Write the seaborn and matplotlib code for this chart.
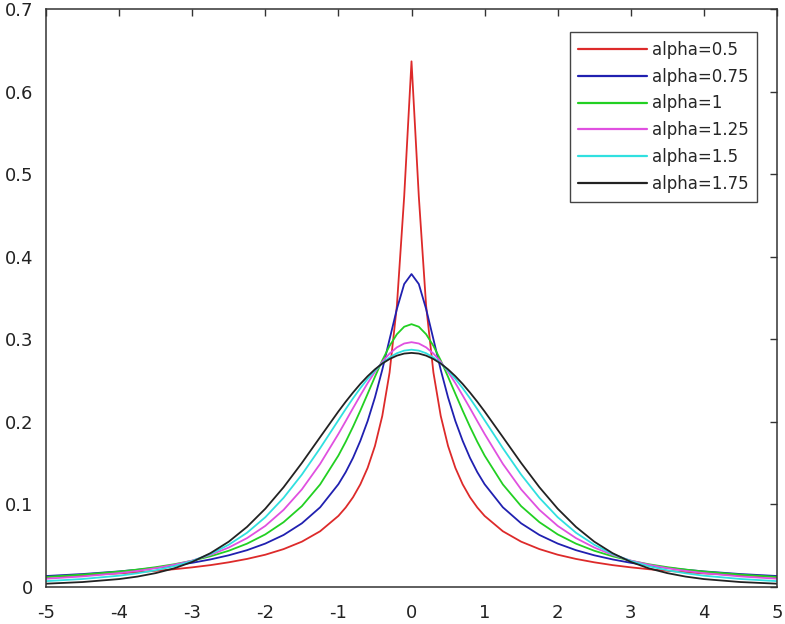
import numpy as np
import pandas as pd
import matplotlib
matplotlib.use("Agg")
import matplotlib.pyplot as plt
import seaborn as sns

# sample points along x (curves are symmetric about 0)
x_vals = [-5, -4.5, -4, -3.75, -3.5, -3.25, -3, -2.75, -2.5, -2.25, -2, -1.75, -1.5, -1.25,
          -1, -0.9, -0.8, -0.7, -0.6, -0.5, -0.4, -0.3, -0.2, -0.1, 0,
          0.1, 0.2, 0.3, 0.4, 0.5, 0.6, 0.7, 0.8, 0.9, 1, 1.25, 1.5, 1.75, 2,
          2.25, 2.5, 2.75, 3, 3.25, 3.5, 3.75, 4, 4.5, 5]

alpha_050 = [0.0123, 0.0142, 0.0165, 0.0179, 0.0196, 0.0215, 0.0238, 0.0265, 0.0299, 0.0340,
             0.0391, 0.0459, 0.0549, 0.0675, 0.0861, 0.0963, 0.1087, 0.1243, 0.1443, 0.1708,
             0.2071, 0.2597, 0.3405, 0.4730, 0.6366,
             0.4730, 0.3405, 0.2597, 0.2071, 0.1708, 0.1443, 0.1243, 0.1087, 0.0963, 0.0861,
             0.0675, 0.0549, 0.0459, 0.0391, 0.0340, 0.0299, 0.0265, 0.0238, 0.0215, 0.0196,
             0.0179, 0.0165, 0.0142, 0.0123]
alpha_075 = [0.0133, 0.0157, 0.0189, 0.0209, 0.0232, 0.0260, 0.0293, 0.0334, 0.0384, 0.0446,
             0.0526, 0.0630, 0.0771, 0.0965, 0.1245, 0.1391, 0.1564, 0.1770, 0.2010, 0.2296,
             0.2630, 0.3000, 0.3367, 0.3669, 0.3790,
             0.3669, 0.3367, 0.3000, 0.2630, 0.2296, 0.2010, 0.1770, 0.1564, 0.1391, 0.1245,
             0.0965, 0.0771, 0.0630, 0.0526, 0.0446, 0.0384, 0.0334, 0.0293, 0.0260, 0.0232,
             0.0209, 0.0189, 0.0157, 0.0133]
alpha_100 = [0.0122, 0.0150, 0.0187, 0.0211, 0.0240, 0.0275, 0.0318, 0.0372, 0.0439, 0.0525,
             0.0637, 0.0785, 0.0979, 0.1242, 0.1592, 0.1759, 0.1941, 0.2136, 0.2340, 0.2546,
             0.2744, 0.2920, 0.3061, 0.3152, 0.3183,
             0.3152, 0.3061, 0.2920, 0.2744, 0.2546, 0.2340, 0.2136, 0.1941, 0.1759, 0.1592,
             0.1242, 0.0979, 0.0785, 0.0637, 0.0525, 0.0439, 0.0372, 0.0318, 0.0275, 0.0240,
             0.0211, 0.0187, 0.0150, 0.0122]
alpha_125 = [0.0100, 0.0128, 0.0168, 0.0195, 0.0228, 0.0269, 0.0320, 0.0389, 0.0478, 0.0592,
             0.0740, 0.0934, 0.1182, 0.1491, 0.1854, 0.2009, 0.2166, 0.2320, 0.2469, 0.2606,
             0.2727, 0.2827, 0.2902, 0.2949, 0.2965,
             0.2949, 0.2902, 0.2827, 0.2727, 0.2606, 0.2469, 0.2320, 0.2166, 0.2009, 0.1854,
             0.1491, 0.1182, 0.0934, 0.0740, 0.0592, 0.0478, 0.0389, 0.0320, 0.0269, 0.0228,
             0.0195, 0.0168, 0.0128, 0.0100]
alpha_150 = [0.0071, 0.0097, 0.0137, 0.0166, 0.0203, 0.0251, 0.0315, 0.0400, 0.0512, 0.0657,
             0.0845, 0.1080, 0.1361, 0.1681, 0.2020, 0.2155, 0.2285, 0.2408, 0.2521, 0.2623,
             0.2710, 0.2780, 0.2831, 0.2863, 0.2874,
             0.2863, 0.2831, 0.2780, 0.2710, 0.2623, 0.2521, 0.2408, 0.2285, 0.2155, 0.2020,
             0.1681, 0.1361, 0.1080, 0.0845, 0.0657, 0.0512, 0.0400, 0.0315, 0.0251, 0.0203,
             0.0166, 0.0137, 0.0097, 0.0071]
alpha_175 = [0.0040, 0.0060, 0.0096, 0.0126, 0.0168, 0.0225, 0.0304, 0.0410, 0.0549, 0.0728,
             0.0948, 0.1208, 0.1502, 0.1815, 0.2126, 0.2244, 0.2355, 0.2459, 0.2553, 0.2636,
             0.2706, 0.2761, 0.2802, 0.2827, 0.2835,
             0.2827, 0.2802, 0.2761, 0.2706, 0.2636, 0.2553, 0.2459, 0.2355, 0.2244, 0.2126,
             0.1815, 0.1502, 0.1208, 0.0948, 0.0728, 0.0549, 0.0410, 0.0304, 0.0225, 0.0168,
             0.0126, 0.0096, 0.0060, 0.0040]

labels = ["alpha=0.5", "alpha=0.75", "alpha=1", "alpha=1.25", "alpha=1.5", "alpha=1.75"]
series = [alpha_050, alpha_075, alpha_100, alpha_125, alpha_150, alpha_175]
colors = ["#dd2a2a", "#2020b0", "#22d022", "#e050e0", "#30e0e0", "#222222"]

y_ticks = [0, 0.1, 0.2, 0.3, 0.4, 0.5, 0.6, 0.7]
y_ticklabels = ["0", "0.1", "0.2", "0.3", "0.4", "0.5", "0.6", "0.7"]
x_ticks = [-5, -4, -3, -2, -1, 0, 1, 2, 3, 4, 5]

frames = []
for lab, ys in zip(labels, series):
    frames.append(pd.DataFrame({"x": x_vals, "density": ys, "curve": lab}))
df = pd.concat(frames, ignore_index=True)

sns.set_style("white")
plt.rcParams["font.family"] = ["DejaVu Sans"]
plt.rcParams["axes.unicode_minus"] = False

fig = plt.figure(figsize=(7.85, 6.24), dpi=100)
ax = fig.add_axes([46 / 785, 37 / 624, 731 / 785, 578 / 624])

sns.lineplot(data=df, x="x", y="density", hue="curve", hue_order=labels,
             palette=dict(zip(labels, colors)), linewidth=1.3, errorbar=None, ax=ax)

ax.set_xlim(-5, 5)
ax.set_ylim(0, 0.7)
ax.set_xticks(x_ticks)
ax.set_xticklabels([str(v) for v in x_ticks])
ax.set_yticks(y_ticks)
ax.set_yticklabels(y_ticklabels)
ax.set_xlabel("")
ax.set_ylabel("")

ax.tick_params(direction="in", length=5, width=1, top=True, right=True,
               labelsize=13, colors="#333333", labelcolor="#222222")
ax.tick_params(axis="x", pad=12)
ax.tick_params(axis="y", pad=9)
for s in ax.spines.values():
    s.set_visible(True)
    s.set_color("#333333")
    s.set_linewidth(1.1)

leg = ax.legend(loc="upper right", bbox_to_anchor=(0.9726, 0.9602), borderaxespad=0,
                fontsize=12, handlelength=4.1, handletextpad=0.3, labelspacing=0.53,
                borderpad=0.52, frameon=True, fancybox=False, edgecolor="#444444",
                framealpha=1)
leg.get_frame().set_linewidth(1.0)
for line in leg.get_lines():
    line.set_linewidth(1.6)

fig.savefig("out.png", dpi=100)
